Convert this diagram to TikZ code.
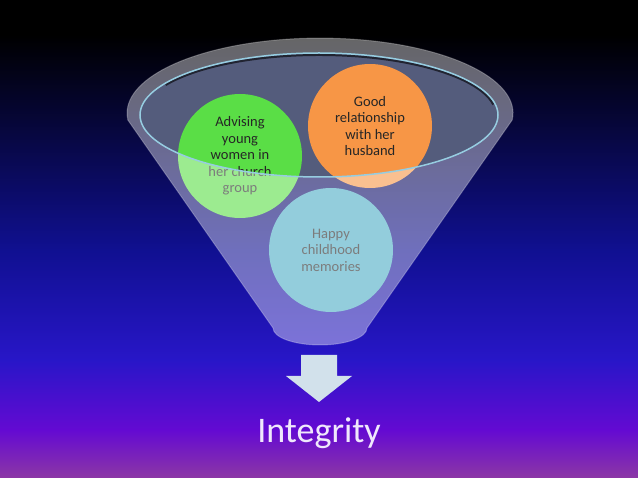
\documentclass[tikz,border=0pt]{standalone}
\usepackage{fontspec}
\setmainfont{Carlito}
\definecolor{bg0}{RGB}{0,0,0}
\definecolor{bg1}{RGB}{6,6,55}
\definecolor{bg2}{RGB}{16,16,145}
\definecolor{bg3}{RGB}{40,22,200}
\definecolor{bg4}{RGB}{100,10,210}
\definecolor{bg5}{RGB}{140,55,165}
\definecolor{cgreen}{RGB}{90,222,70}
\definecolor{corange}{RGB}{247,150,70}
\definecolor{caqua}{RGB}{75,172,198}
\definecolor{holefill}{RGB}{84,92,124}
\definecolor{rimline}{RGB}{150,205,225}
\definecolor{arrowfill}{RGB}{210,225,235}
\definecolor{integ}{RGB}{240,232,252}
\begin{document}
\begin{tikzpicture}[x=1pt,y=-1pt,
  bubble/.style={circle, minimum size=124pt, inner sep=0pt, align=center,
    font=\fontsize{14.5}{16.5}\selectfont, text=black!85}]
\useasboundingbox (0,0) rectangle (638,478);
% background
\fill[top color=bg0,bottom color=bg0] (0,0) rectangle (638,35.5);
\fill[top color=bg0,bottom color=bg1] (0,35) rectangle (638,120.5);
\fill[top color=bg1,bottom color=bg2] (0,120) rectangle (638,250.5);
\fill[top color=bg2,bottom color=bg3] (0,250) rectangle (638,360.5);
\fill[top color=bg3,bottom color=bg4] (0,360) rectangle (638,430.5);
\fill[top color=bg4,bottom color=bg5] (0,430) rectangle (638,478);
% hole of the funnel
\fill[holefill] (319,115) ellipse [x radius=179, y radius=62];
% circles
\node[bubble, fill=cgreen] (advise) at (240,156) {Advising\\young\\women in\\her church\\group};
\node[bubble, fill=corange] (good) at (370,126) {Good\\relationship\\with her\\husband};
\node[bubble, fill=caqua] (happy) at (331,250) {Happy\\childhood\\memories};
% funnel body overlay
\fill[white, fill opacity=0.4, even odd rule]
  (127.8,120) -- (273,328) arc[start angle=180, end angle=0, x radius=47, y radius=17]
  -- (512.2,120) arc[start angle=5.3, end angle=-185.3, x radius=193, y radius=75] -- cycle
  (319,115) ellipse [x radius=179, y radius=62];
\draw[white, opacity=0.25, line width=1pt]
  (127.8,120) -- (273,328) arc[start angle=180, end angle=0, x radius=47, y radius=17]
  -- (512.2,120) arc[start angle=5.3, end angle=-185.3, x radius=193, y radius=75] -- cycle;
% rim of hole
\draw[black, opacity=0.6, line width=2pt] (319,115) ++(-150:177 and 60)
  arc[start angle=-150, end angle=-10, x radius=177, y radius=60];
\draw[rimline, line width=1.5pt] (319,115) ellipse [x radius=179, y radius=62];
% arrow
\fill[arrowfill] (301,355) -- (337,355) -- (337,376) -- (352,376) -- (319,402)
  -- (286,376) -- (301,376) -- cycle;
\node[anchor=base, text=integ, font=\fontsize{36}{42}\selectfont, inner sep=0pt]
  (integrity) at (319,443) {Integrity};
\end{tikzpicture}
\end{document}
